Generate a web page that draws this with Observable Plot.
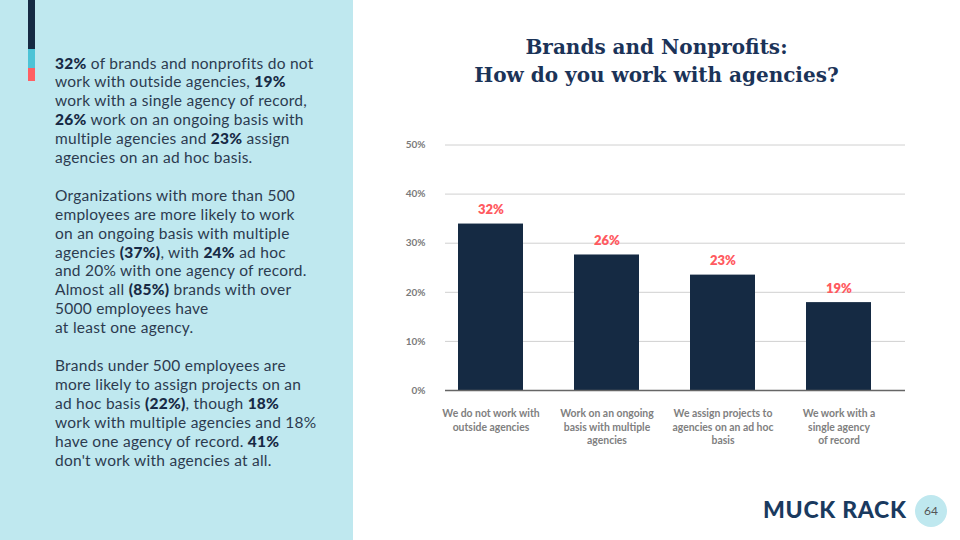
<!DOCTYPE html>
<html>
<head>
<meta charset="utf-8">
<script src="https://cdn.jsdelivr.net/npm/d3@7"></script>
<script src="https://cdn.jsdelivr.net/npm/@observablehq/plot@0.6"></script>
<style>
  html, body { margin: 0; padding: 0; }
  body { width: 960px; height: 540px; position: relative; overflow: hidden; background: #fff; font-family: Lato, "Open Sans", sans-serif; }
  #panel { position: absolute; left: 0; top: 0; width: 353px; height: 540px; background: #bfe8ef; }
  .accent { position: absolute; left: 28px; width: 7px; }
  #copy { position: absolute; left: 55px; top: 53.5px; font-size: 15.5px; letter-spacing: 0.25px; line-height: 18.9px; color: #2c3b4f; white-space: nowrap; }
  #copy b { color: #172a45; font-weight: 900; }
  #title { position: absolute; left: 353px; width: 607px; top: 33px; text-align: center; font-family: "DejaVu Serif", serif; font-weight: bold; font-size: 20px; line-height: 28px; color: #1b3358; }
  #chart { position: absolute; left: 353px; top: 100px; }
  #logo { position: absolute; left: 763px; top: 494px; font-family: Lato, sans-serif; font-weight: 900; font-size: 23px; line-height: 30px; color: #1a3a5f; letter-spacing: 0.7px; }
  #page { position: absolute; left: 915px; top: 495px; width: 32px; height: 32px; border-radius: 50%; background: #bfe8ef; color: #555; font-size: 12px; line-height: 32px; text-align: center; font-family: Lato, sans-serif; }
</style>
</head>
<body>
<div id="panel">
  <div class="accent" style="top:0;height:49px;background:#152a43"></div>
  <div class="accent" style="top:49px;height:19px;background:#4cc3d6"></div>
  <div class="accent" style="top:68px;height:13px;background:#ff5f63"></div>
  <div id="copy">
    <b>32%</b> of brands and nonprofits do not<br>
    work with outside agencies, <b>19%</b><br>
    work with a single agency of record,<br>
    <b>26%</b> work on an ongoing basis with<br>
    multiple agencies and <b>23%</b> assign<br>
    agencies on an ad hoc basis.<br>
    <br>
    Organizations with more than 500<br>
    employees are more likely to work<br>
    on an ongoing basis with multiple<br>
    agencies <b>(37%)</b>, with <b>24%</b> ad hoc<br>
    and 20% with one agency of record.<br>
    Almost all <b>(85%)</b> brands with over<br>
    5000 employees have<br>
    at least one agency.<br>
    <br>
    Brands under 500 employees are<br>
    more likely to assign projects on an<br>
    ad hoc basis <b>(22%)</b>, though <b>18%</b><br>
    work with multiple agencies and 18%<br>
    have one agency of record. <b>41%</b><br>
    don't work with agencies at all.
  </div>
</div>
<div id="title">Brands and Nonprofits:<br>How do you work with agencies?</div>
<div id="chart"></div>
<div id="logo">MUCK RACK</div>
<div id="page">64</div>
<script>
const categories = [
  "We do not work with outside agencies",
  "Work on an ongoing basis with multiple agencies",
  "We assign projects to agencies on an ad hoc basis",
  "We work with a single agency of record"
];
const tickLabels = [
  "We do not work with\noutside agencies",
  "Work on an ongoing\nbasis with multiple\nagencies",
  "We assign projects to\nagencies on an ad hoc\nbasis",
  "We work with a\nsingle agency\nof record"
];
const values = [33.9, 27.6, 23.5, 17.9];
const valueLabels = ["32%", "26%", "23%", "19%"];
const yTicks = [0, 10, 20, 30, 40, 50];

const rows = categories.map((c, i) => ({category: c, value: values[i], label: valueLabels[i]}));

const chart = Plot.plot({
  width: 607,
  height: 370,
  marginLeft: 92,
  marginRight: 55,
  marginTop: 44.5,
  marginBottom: 80,
  style: {fontFamily: "Lato, sans-serif", background: "transparent", overflow: "visible"},
  x: {domain: categories, paddingInner: 0.443, paddingOuter: 0.193, align: 0.28, label: null},
  y: {domain: [0, 50], label: null},
  marks: [
    Plot.gridY({ticks: yTicks, stroke: "#d0d0d0", strokeOpacity: 1, strokeWidth: 1}),
    Plot.barY(rows, {x: "category", y: "value", fill: "#152a43"}),
    Plot.ruleY([0], {stroke: "#666", strokeWidth: 1.5}),
    Plot.text(rows, {x: "category", y: "value", text: "label", dy: -14, fill: "#ff5a60", fontWeight: 800, fontSize: 13}),
    Plot.axisY({ticks: yTicks, tickSize: 0, tickPadding: 20, tickFormat: d => d + "%", fontSize: 10, fill: "#7a7a7a", fontWeight: 700, label: null}),
    Plot.axisX({tickSize: 0, tickPadding: 17, tickFormat: d => tickLabels[categories.indexOf(d)], fontSize: 10.4, fill: "#808080", fontWeight: 700, lineHeight: 1.3, label: null})
  ]
});
document.getElementById("chart").appendChild(chart);
</script>
</body>
</html>
